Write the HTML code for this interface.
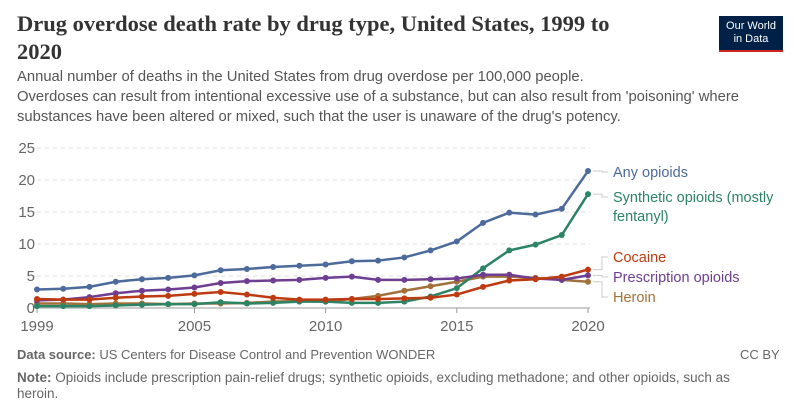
<!DOCTYPE html>
<html><head><meta charset="utf-8"><style>
body{margin:0;width:800px;height:418px;background:#fff;font-family:"Liberation Sans",sans-serif;position:relative;overflow:hidden}
.t{position:absolute;left:17px;top:10px;font-family:"Liberation Serif",serif;font-size:22.5px;color:#333;line-height:28px;width:600px;font-weight:bold}
.sub{position:absolute;left:17px;top:68px;font-size:14.8px;color:#555;line-height:19.8px;width:780px}
.logo{position:absolute;left:719px;top:16px;width:64px;height:36px;background:#002147;border-bottom:2px solid #ce261e;color:#fff;font-size:11px;line-height:13px;text-align:center;padding-top:4px;box-sizing:border-box}
.foot{position:absolute;left:17px;font-size:13px;color:#666}
</style></head><body>
<div class="t">Drug overdose death rate by drug type, United States, 1999 to 2020</div>
<div class="logo">Our World<br>in Data</div>
<div class="sub">Annual number of deaths in the United States from drug overdose per 100,000 people.<br>Overdoses can result from intentional excessive use of a substance, but can also result from 'poisoning' where substances have been altered or mixed, such that the user is unaware of the drug's potency.</div>
<svg id="c" width="800" height="418" style="position:absolute;left:0;top:0"></svg>
<div class="foot" style="top:347px"><b>Data source:</b> US Centers for Disease Control and Prevention WONDER</div>
<div class="foot" style="top:347px;left:740px">CC BY</div>
<div class="foot" style="top:370px;line-height:16px;width:740px;font-size:13.5px"><b>Note:</b> Opioids include prescription pain-relief drugs; synthetic opioids, excluding methadone; and other opioids, such as heroin.</div>
<script>
const years=[1999,2000,2001,2002,2003,2004,2005,2006,2007,2008,2009,2010,2011,2012,2013,2014,2015,2016,2017,2018,2019,2020];
const anyOpioids=[2.9,3.0,3.3,4.1,4.5,4.7,5.1,5.9,6.1,6.4,6.6,6.8,7.3,7.4,7.9,9.0,10.4,13.3,14.9,14.6,15.5,21.4];
const synthetic=[0.3,0.3,0.3,0.4,0.5,0.6,0.6,0.9,0.7,0.8,1.0,1.0,0.8,0.8,1.0,1.8,3.1,6.2,9.0,9.9,11.4,17.8];
const cocaine=[1.4,1.3,1.3,1.6,1.8,1.9,2.2,2.5,2.1,1.6,1.3,1.3,1.4,1.4,1.5,1.6,2.1,3.3,4.3,4.5,4.9,6.0];
const prescription=[1.2,1.3,1.7,2.3,2.7,2.9,3.2,3.9,4.2,4.3,4.4,4.7,4.9,4.4,4.4,4.5,4.6,5.2,5.2,4.6,4.4,5.1];
const heroin=[0.7,0.7,0.6,0.7,0.7,0.6,0.7,0.7,0.8,1.0,1.1,1.0,1.4,1.9,2.7,3.4,4.1,4.9,4.9,4.7,4.4,4.1];
const yTicks=[0,5,10,15,20,25];
const xTicks=[1999,2005,2010,2015,2020];
const X=y=>37+(y-1999)*(588-37)/21, Y=v=>308-v*6.4;
const s=document.getElementById('c'),NS='http://www.w3.org/2000/svg';
function el(t,a){const e=document.createElementNS(NS,t);for(const k in a)e.setAttribute(k,a[k]);s.appendChild(e);return e;}
yTicks.forEach(v=>{
 const l=el('line',{x1:37,x2:590,y1:Y(v),y2:Y(v),stroke:v?'#ddd':'#999','stroke-dasharray':v?'4,4':''});
 
 
 const t=el('text',{x:35,y:Y(v)+5,'text-anchor':'end','font-size':15,fill:'#666'});t.textContent=v;
 
 
});
xTicks.forEach(v=>{
 const k=el('line',{x1:X(v),x2:X(v),y1:308,y2:313,stroke:'#999'});
 
 
 const t=el('text',{x:X(v),y:331,'text-anchor':'middle','font-size':15,fill:'#666'});t.textContent=v;
 
 
});
const series=[
 {d:heroin,c:'#a2703b',n:'heroin',lab:['Heroin'],ly:302},
 {d:synthetic,c:'#2c8465',n:'synthetic-opioids',lab:['Synthetic opioids (mostly','fentanyl)'],ly:202},
 {d:prescription,c:'#6d3e91',n:'prescription-opioids',lab:['Prescription opioids'],ly:282},
 {d:cocaine,c:'#be3a11',n:'cocaine',lab:['Cocaine'],ly:262},
 {d:anyOpioids,c:'#4c6a9c',n:'any-opioids',lab:['Any opioids'],ly:177}];
series.forEach(S=>{
 const p=el('polyline',{points:S.d.map((v,i)=>X(years[i])+','+Y(v)).join(' '),fill:'none',stroke:S.c,'stroke-width':2.5});
 
 
 S.d.forEach((v,i)=>{const c=el('circle',{cx:X(years[i]),cy:Y(v),r:3,fill:S.c});
  
  });
 const ey=Y(S.d[S.d.length-1]);
 const cl=el('polyline',{points:`593,${ey} 602,${ey} 602,${S.ly-5} 608,${S.ly-5}`,fill:'none',stroke:'#ccc'});
 
 
 S.lab.forEach((L,j)=>{const t=el('text',{x:613,y:S.ly+j*19,'font-size':14.5,fill:S.c});t.textContent=L;
  
  });
});
</script>
</body></html>
